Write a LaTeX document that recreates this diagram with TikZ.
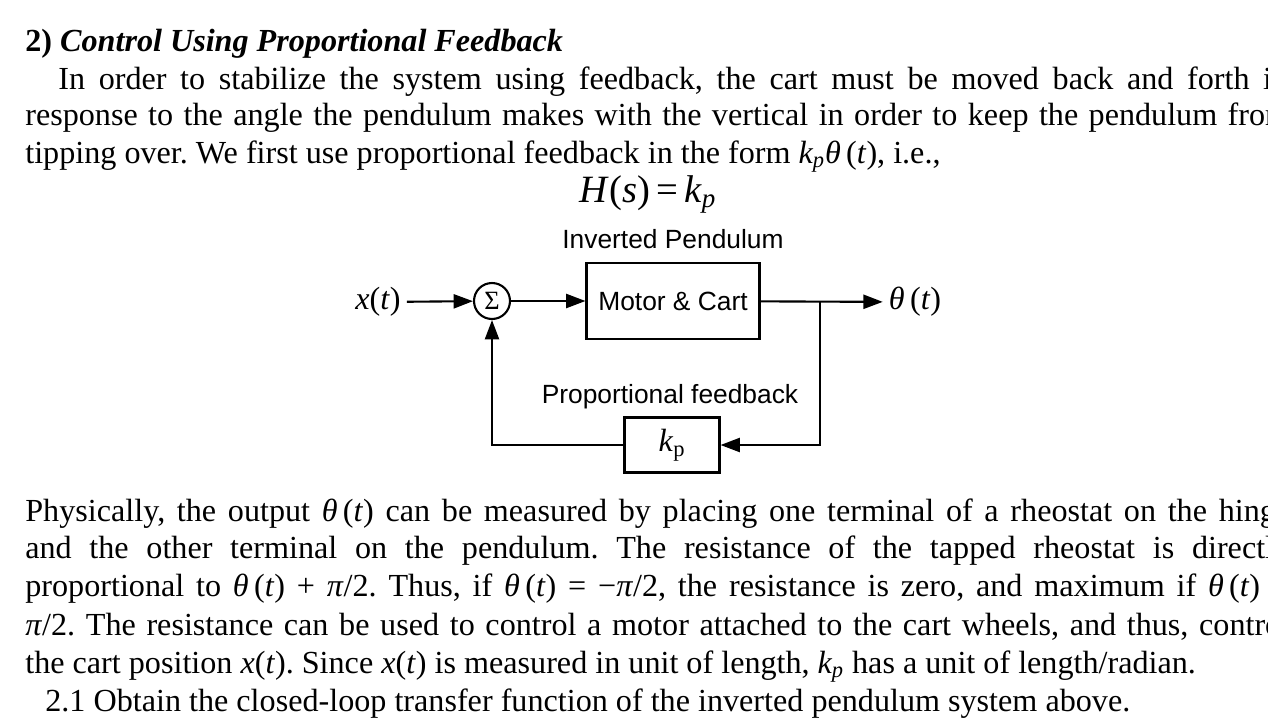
\documentclass[tikz,border=0pt]{standalone}
\usepackage{fontspec}
\setmainfont{Liberation Serif}
\setsansfont{Liberation Sans}
\usetikzlibrary{positioning,arrows.meta}
\frenchspacing
\tikzset{
  txt/.style={anchor=base west,inner sep=0pt,font=\fontsize{18.3}{21}\selectfont},
  block/.style={draw,line width=1.2pt,minimum width=3.46cm,minimum height=1.52cm,font=\sffamily\fontsize{15}{18}\selectfont},
  lbl/.style={font=\sffamily\fontsize{15}{18}\selectfont},
  sig/.style={line width=1.2pt,-{Triangle[length=11pt,width=8pt]}},
}
\newcommand{\jline}[2]{\makebox[#1][s]{#2}}
\newcommand{\thet}{\textit{θ}\,(\textit{t})}
\begin{document}
\begin{tikzpicture}[x=0.02cm,y=-0.02cm]
\useasboundingbox (0,0) rectangle (1268,724);
\clip (0,0) rectangle (1268,724);
% text above the diagram
\node[txt] (head) at (25,51) {\textbf{2) \textit{Control Using Proportional Feedback}}};
\node[txt] (l1) at (58,89) {\jline{24.6cm}{In order to stabilize the system using feedback, the cart must be moved back and forth in}};
\node[txt] (l2) at (25,125) {\jline{25.3cm}{response to the angle the pendulum makes with the vertical in order to keep the pendulum from}};
\node[txt] (l3) at (25,163) {tipping over. We first use proportional feedback in the form \textit{k\textsubscript{p}θ}\,(\textit{t}), i.e.,};
\node[txt,font=\fontsize{22}{26}\selectfont,anchor=base] (hs) at (648,202) {\textit{H}(\textit{s})\,=\,\textit{k\textsubscript{p}}};
% diagram
\node[block] (mc) at (673,301) {Motor \& Cart};
\node[lbl,above=4pt of mc] (ip) {Inverted Pendulum};
\node[draw,circle,line width=1.2pt,inner sep=1pt,minimum size=0.72cm,font=\fontsize{15}{18}\selectfont] (sum) at (492,301) {Σ};
\node[font=\fontsize{18.3}{21}\selectfont] (in) at (378,302) {\textit{x}(\textit{t})};
\node[font=\fontsize{18.3}{21}\selectfont] (out) at (915,302) {\thet};
\node[draw,line width=1.2pt,minimum width=1.9cm,minimum height=1.1cm,font=\fontsize{18.3}{21}\selectfont] (kp) at (672,445) {\textit{k}\textsubscript{p}};
\node[lbl] (pf) at (670,397) {Proportional feedback};
\coordinate (br) at (820,301);
\draw[sig] (in) -- (sum);
\draw[sig] (sum) -- (mc);
\draw[sig] (mc) -- (out);
\draw[sig] (br) |- (kp);
\draw[sig] (kp) -| (sum);
% text below the diagram
\node[txt] (l4) at (25,521) {\jline{25.3cm}{Physically, the output \thet{} can be measured by placing one terminal of a rheostat on the hinge}};
\node[txt] (l5) at (25,558) {\jline{25.3cm}{and the other terminal on the pendulum. The resistance of the tapped rheostat is directly}};
\node[txt] (l6) at (25,596) {\jline{25.3cm}{proportional to \thet{} + \textit{π}/2. Thus, if \thet{} = −\textit{π}/2, the resistance is zero, and maximum if \thet{} =}};
\node[txt] (l7) at (25,635) {\jline{25.3cm}{\textit{π}/2. The resistance can be used to control a motor attached to the cart wheels, and thus, control}};
\node[txt] (l8) at (25,673) {the cart position \textit{x}(\textit{t}). Since \textit{x}(\textit{t}) is measured in unit of length, \textit{k\textsubscript{p}} has a unit of length/radian.};
\node[txt] (l9) at (45,711) {2.1 Obtain the closed-loop transfer function of the inverted pendulum system above.};
\end{tikzpicture}
\end{document}
